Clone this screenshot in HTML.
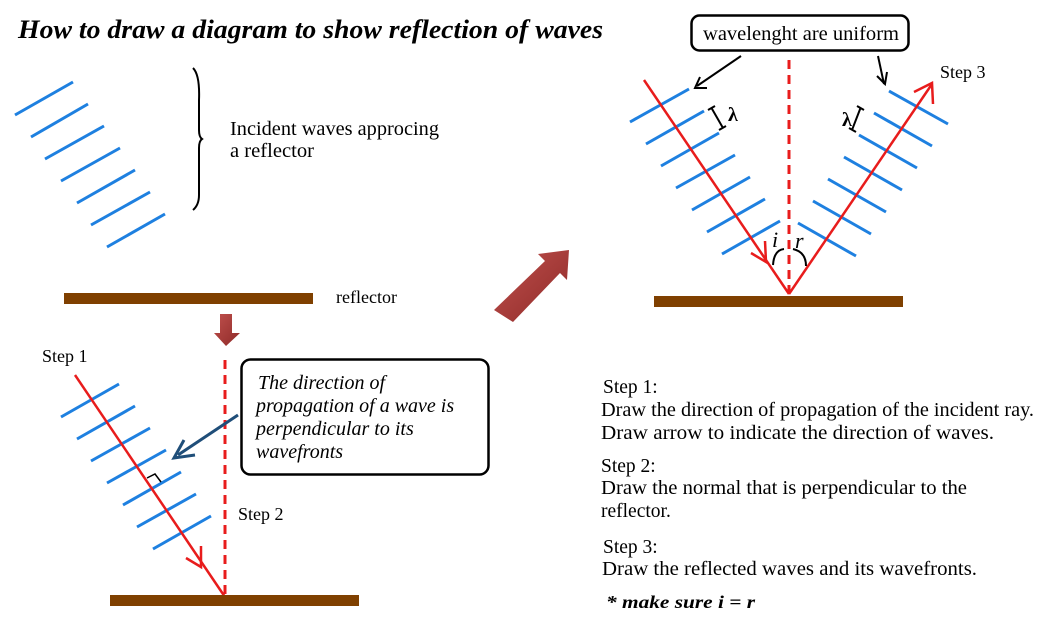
<!DOCTYPE html>
<html><head><meta charset="utf-8"><style>html,body{margin:0;padding:0;background:#fff;}svg{display:block;}</style></head>
<body>
<svg width="1042" height="623" viewBox="0 0 1042 623" xmlns="http://www.w3.org/2000/svg" font-family="'Liberation Serif', serif">
<defs>
<linearGradient id="ag" x1="0" y1="0" x2="1" y2="1"><stop offset="0" stop-color="#c0504d"/><stop offset="1" stop-color="#8e2a28"/></linearGradient>
</defs>
<text x="18" y="38" font-size="26" font-style="italic" font-weight="bold" textLength="585" lengthAdjust="spacingAndGlyphs">How to draw a diagram to show reflection of waves</text>

<g stroke="#1e80e0" stroke-width="3">
<line x1="15" y1="115" x2="73" y2="82"/><line x1="31" y1="137" x2="88" y2="104"/><line x1="45" y1="159" x2="104" y2="126"/><line x1="61" y1="181" x2="120" y2="148"/><line x1="77" y1="203" x2="135" y2="170"/><line x1="91" y1="225" x2="150" y2="192"/><line x1="107" y1="247" x2="165" y2="214"/>
</g>
<path d="M193 68 Q200 75 199 100 L199 130 Q199 137 202 139 Q199 141 199 148 L199 195 Q199 205 193 210" fill="none" stroke="#000" stroke-width="2"/>
<text x="230" y="135" font-size="20" textLength="209" lengthAdjust="spacingAndGlyphs">Incident waves approcing</text>
<text x="230" y="157" font-size="20" textLength="84" lengthAdjust="spacingAndGlyphs">a reflector</text>
<rect x="64" y="293" width="249" height="11" fill="#7f4000"/>
<text x="336" y="303" font-size="18">reflector</text>

<polygon points="220,314 232,314 232,333 240,333 226,346 214,333 220,333" fill="url(#ag)"/>
<polygon points="494,310 545,261 538,254 569,250 567,280 560,273 513,322" fill="url(#ag)"/>

<text x="42" y="362" font-size="18">Step 1</text>
<g stroke="#1e80e0" stroke-width="3">
<line x1="61" y1="417" x2="119" y2="384"/><line x1="77" y1="439" x2="135" y2="406"/><line x1="91" y1="461" x2="150" y2="428"/><line x1="107" y1="483" x2="166" y2="450"/><line x1="123" y1="505" x2="181" y2="472"/><line x1="137" y1="527" x2="196" y2="494"/><line x1="153" y1="549" x2="211" y2="516"/>
</g>
<path d="M147 478 L155 474 L161 482" fill="none" stroke="#000" stroke-width="1.5"/>
<line x1="75" y1="375" x2="225" y2="597" stroke="#e81c1c" stroke-width="2.5"/>
<path d="M186 558 L201 567 L201 546" fill="none" stroke="#e81c1c" stroke-width="2.5"/>
<line x1="225" y1="360" x2="225" y2="597" stroke="#e81c1c" stroke-width="3" stroke-dasharray="9,6"/>
<rect x="110" y="595" width="249" height="11" fill="#7f4000"/>
<text x="238" y="520" font-size="18">Step 2</text>
<rect x="241.5" y="359.5" width="247" height="115" rx="9" fill="#fff" stroke="#000" stroke-width="2.5"/>
<g font-size="20" font-style="italic">
<text x="258" y="389">The direction of</text>
<text x="256" y="412">propagation of a wave is</text>
<text x="256" y="435">perpendicular to its</text>
<text x="256" y="458">wavefronts</text>
</g>
<line x1="238" y1="415" x2="178" y2="455" stroke="#1f4e79" stroke-width="3"/>
<path d="M184 440 L174 458 L195 455" fill="none" stroke="#1f4e79" stroke-width="3"/>

<rect x="691.5" y="15.5" width="217" height="35" rx="8" fill="#fff" stroke="#000" stroke-width="2.5"/>
<text x="703" y="40" font-size="20" textLength="196" lengthAdjust="spacingAndGlyphs">wavelenght are uniform</text>
<g stroke="#1e80e0" stroke-width="3">
<line x1="630" y1="122" x2="689" y2="89"/><line x1="646" y1="144" x2="704" y2="111"/><line x1="661" y1="166" x2="719" y2="133"/><line x1="676" y1="188" x2="735" y2="155"/><line x1="692" y1="210" x2="750" y2="177"/><line x1="707" y1="232" x2="765" y2="199"/><line x1="722" y1="254" x2="780" y2="221"/>
<line x1="889" y1="91" x2="948" y2="124"/><line x1="874" y1="113" x2="932" y2="146"/><line x1="859" y1="135" x2="917" y2="168"/><line x1="844" y1="157" x2="902" y2="190"/><line x1="828" y1="179" x2="886" y2="212"/><line x1="813" y1="201" x2="871" y2="234"/><line x1="798" y1="223" x2="856" y2="256"/>
</g>
<line x1="789" y1="60" x2="789" y2="294" stroke="#e81c1c" stroke-width="3" stroke-dasharray="9,6"/>
<line x1="644" y1="80" x2="789" y2="294" stroke="#e81c1c" stroke-width="2.5"/>
<line x1="789" y1="294" x2="932" y2="84" stroke="#e81c1c" stroke-width="2.5"/>
<path d="M751 253 L766 262 L765 241" fill="none" stroke="#e81c1c" stroke-width="2.5"/>
<path d="M914 92 L932 83 L933 104" fill="none" stroke="#e81c1c" stroke-width="2.5"/>
<rect x="654" y="296" width="249" height="11" fill="#7f4000"/>
<text x="940" y="78" font-size="18">Step 3</text>
<path d="M708 110 L715 106 M711.5 108 L723 128 M719 130 L726 126" fill="none" stroke="#000" stroke-width="2"/>
<text x="728" y="121" font-size="20" font-weight="bold">λ</text>
<path d="M857 106 L864 110 M860.5 108 L852 130 M849 128 L856 132" fill="none" stroke="#000" stroke-width="2"/>
<text x="842" y="126" font-size="20" font-weight="bold">λ</text>
<line x1="741" y1="56" x2="697" y2="86" stroke="#000" stroke-width="2"/>
<path d="M700 77 L695 88 L707 88" fill="none" stroke="#000" stroke-width="2"/>
<line x1="878" y1="56" x2="884" y2="84" stroke="#000" stroke-width="2"/>
<path d="M877 76 L885 84 L887 72" fill="none" stroke="#000" stroke-width="2"/>
<text x="772" y="247" font-size="22" font-style="italic">i</text>
<text x="795" y="248" font-size="22" font-style="italic">r</text>
<path d="M773 265 Q774 250 784 249" fill="none" stroke="#000" stroke-width="2"/>
<path d="M793 249 Q806 252 806 266" fill="none" stroke="#000" stroke-width="2"/>

<g font-size="19.5">
<text x="603" y="393">Step 1:</text>
<text x="601" y="416" textLength="433" lengthAdjust="spacingAndGlyphs">Draw the direction of propagation of the incident ray.</text>
<text x="601" y="439" textLength="393" lengthAdjust="spacingAndGlyphs">Draw arrow to indicate the direction of waves.</text>
<text x="601" y="472">Step 2:</text>
<text x="601" y="494" textLength="366" lengthAdjust="spacingAndGlyphs">Draw the normal that is perpendicular to the</text>
<text x="601" y="517">reflector.</text>
<text x="603" y="553">Step 3:</text>
<text x="602" y="575" textLength="375" lengthAdjust="spacingAndGlyphs">Draw the reflected waves  and its  wavefronts.</text>
</g>
<text x="606" y="608" font-size="18" font-weight="bold" font-style="italic" textLength="149" lengthAdjust="spacingAndGlyphs">* make sure i =  r</text>
</svg>
</body></html>
